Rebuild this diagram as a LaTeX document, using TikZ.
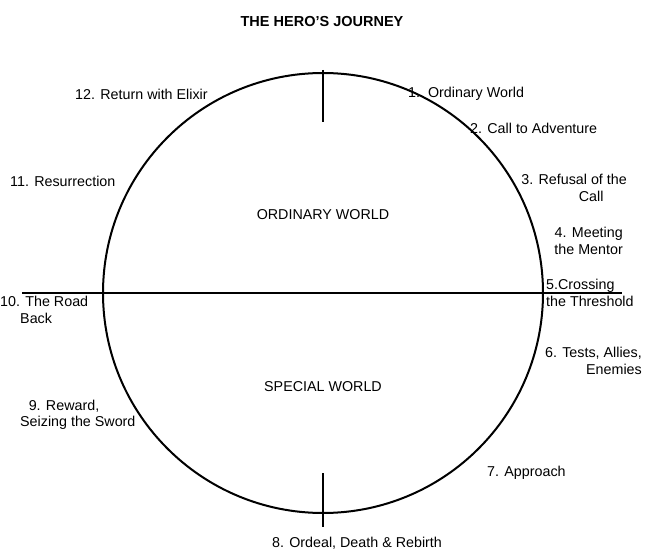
\documentclass[tikz,border=0pt]{standalone}
\usepackage{fontspec}
\setmainfont{Liberation Sans}
\begin{document}
\begin{tikzpicture}[x=1pt,y=-1pt,
  lbl/.style={font=\fontsize{14.3}{16.5}\selectfont,inner sep=0pt},
  ln/.style={line width=2pt}]
\useasboundingbox (0,0) rectangle (653,553);
\node[ln,draw,circle,minimum size=440pt,inner sep=0pt] (c) at (323,293) {};
\coordinate (hl) at (22,293); \coordinate (hr) at (622,293);
\draw[ln] (hl) -- (hr);
\coordinate (t1) at (323,70); \coordinate (t2) at (323,122);
\coordinate (b1) at (323,473); \coordinate (b2) at (323,527);
\draw[ln] (t1) -- (t2);
\draw[ln] (b1) -- (b2);
\node[lbl,font=\bfseries\fontsize{14.5}{17}\selectfont] (title) at (322,22) {THE HERO’S JOURNEY};
\node[lbl,anchor=west] (n12) at (75,94) {12. Return with Elixir};
\node[lbl,anchor=west] (n1) at (408,94) {1.\ \ Ordinary World};
\node[lbl,anchor=west] (n2) at (470,128) {2. Call to Adventure};
\node[lbl,anchor=east,align=center] (n3) at (627,188) {3. Refusal of the\\\hspace*{2.4em}Call};
\node[lbl,anchor=east,align=right] (n4) at (623,241) {4. Meeting\\the Mentor};
\node[lbl,anchor=west,align=left] (n5) at (546,293) {5.Crossing\\the Threshold};
\node[lbl,anchor=west,align=left] (n10) at (0,310) {10. The Road\\\hspace*{1.4em}Back};
\node[lbl,anchor=west] (n11) at (10,181) {11. Resurrection};
\node[lbl] (ow) at (323,215) {ORDINARY WORLD};
\node[lbl] (sw) at (323,387) {SPECIAL WORLD};
\node[lbl,anchor=east,align=right] (n6) at (642,361) {6. Tests, Allies,\\Enemies};
\node[lbl,anchor=west,align=left] (n9) at (20,415) {\hspace*{0.6em}9. Reward,\\Seizing the Sword};
\node[lbl,anchor=west] (n7) at (487,473) {7. Approach};
\node[lbl] (n8) at (357,543) {8. Ordeal, Death \& Rebirth};
\end{tikzpicture}
\end{document}
